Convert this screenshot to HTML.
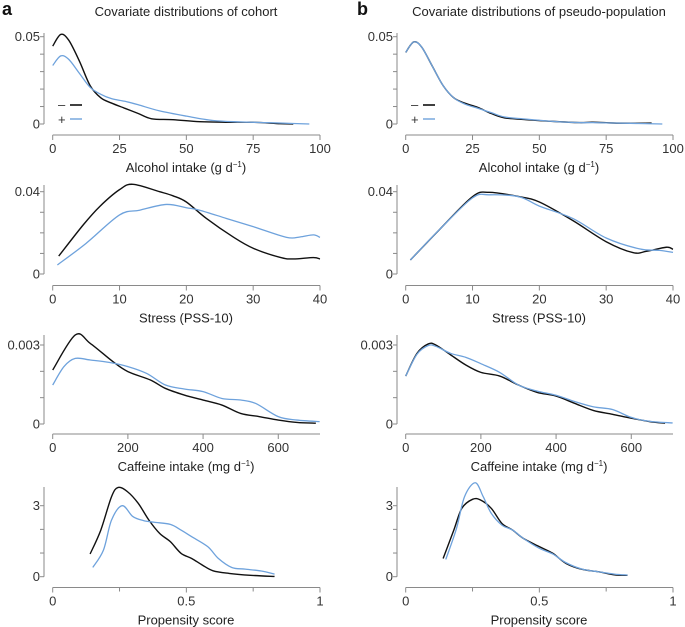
<!DOCTYPE html>
<html><head><meta charset="utf-8">
<style>
body{margin:0;background:#fff;}
svg{display:block;font-family:"Liberation Sans",Arial,sans-serif;}
.tk{font-size:13px;fill:#333;}
.ttl{font-size:13px;fill:#222;}
</style></head>
<body>
<svg id="fig" width="685" height="627" viewBox="0 0 685 627">
<text x="2" y="15" font-size="18" font-weight="bold" fill="#111">a</text>
<text x="186" y="16" text-anchor="middle" class="ttl">Covariate distributions of cohort</text>
<text x="357" y="15" font-size="18" font-weight="bold" fill="#111">b</text>
<text x="539" y="16" text-anchor="middle" class="ttl">Covariate distributions of pseudo-population</text>
</svg>
<script>
// ---- data ----
const alcA_bx=[0,3,6,10,14,18,22,27,32,37,45,55,65,75,85,90];
const alcA_by=[0.0446,0.0513,0.048,0.036,0.022,0.015,0.012,0.009,0.006,0.003,0.0025,0.0013,0.001,0.001,0.0002,0];
const alcA_cx=[0,3,6,10,14,18,22,27,32,40,50,60,70,80,90,96];
const alcA_cy=[0.0335,0.039,0.037,0.029,0.021,0.017,0.0145,0.013,0.011,0.0075,0.0045,0.002,0.0012,0.0008,0.0003,0];
const alcB_bx=[0,3,6,10,14,18,22,27,32,37,45,55,65,70,80,92];
const alcB_by=[0.041,0.047,0.044,0.033,0.022,0.015,0.012,0.0095,0.006,0.0035,0.0025,0.0015,0.0008,0.001,0.0005,0.0005];
const alcB_cx=[0,3,6,10,14,18,22,27,32,37,45,55,65,70,80,96];
const alcB_cy=[0.041,0.047,0.044,0.033,0.022,0.015,0.0115,0.009,0.0065,0.004,0.0028,0.0015,0.0008,0.0008,0.0005,0];

const strA_bx=[0.9,4.6,7.1,10,12,16,18,20,23,27,30,34,36,39,40];
const strA_by=[0.0087,0.024,0.033,0.041,0.0436,0.040,0.038,0.035,0.027,0.018,0.0125,0.0081,0.0073,0.008,0.0073];
const strA_cx=[0.7,5,10,13,17,20,22,26,30,35,37,39,40];
const strA_cy=[0.0044,0.0149,0.0287,0.031,0.0338,0.0322,0.031,0.027,0.023,0.0178,0.018,0.019,0.0178];
const strB_bx=[0.7,5,10,12.5,17,20,25,30,34,36,39,40];
const strB_by=[0.0068,0.0214,0.0376,0.0397,0.0376,0.035,0.026,0.0157,0.0104,0.011,0.013,0.012];
const strB_cx=[0.7,5,10,12.5,17,20,25,30,35,38,40];
const strB_cy=[0.0068,0.0214,0.037,0.0385,0.0375,0.033,0.027,0.0175,0.0122,0.0115,0.0105];

const cafA_bx=[0,60,100,160,200,260,300,350,400,450,500,550,600,650,700];
const cafA_by=[0.00205,0.00338,0.00306,0.00237,0.00199,0.00167,0.00135,0.0011,0.00091,0.00072,0.0004,0.00028,0.00015,0.00006,0.00003];
const cafA_cx=[0,30,60,100,150,200,250,300,350,400,450,500,540,600,650,710];
const cafA_cy=[0.00148,0.00218,0.00249,0.00243,0.00234,0.00218,0.00192,0.00148,0.00133,0.00123,0.00097,0.00091,0.00078,0.00028,0.00015,0.00009];
const cafB_bx=[0,30,60,80,120,160,200,250,300,350,400,450,500,550,600,650,690];
const cafB_by=[0.00182,0.00268,0.00304,0.003,0.00262,0.00224,0.00196,0.00182,0.00148,0.0012,0.00106,0.00078,0.00051,0.00037,0.00022,0.00009,0.00003];
const cafB_cx=[0,30,60,80,120,160,200,250,300,350,400,450,500,550,600,650,710];
const cafB_cy=[0.00182,0.00265,0.00298,0.00295,0.00268,0.00253,0.00229,0.00196,0.00148,0.00125,0.00109,0.00085,0.00065,0.00055,0.00025,0.0001,0.00004];

const proA_bx=[0.14,0.18,0.22,0.245,0.28,0.32,0.36,0.4,0.44,0.48,0.52,0.56,0.6,0.66,0.74,0.83];
const proA_by=[0.96,1.97,3.38,3.77,3.59,3.1,2.39,1.83,1.48,0.99,0.77,0.49,0.25,0.14,0.06,0.01];
const proA_cx=[0.15,0.19,0.22,0.26,0.3,0.34,0.38,0.44,0.48,0.52,0.58,0.62,0.67,0.72,0.78,0.83];
const proA_cy=[0.39,1.13,2.39,3.0,2.54,2.37,2.3,2.21,1.97,1.69,1.27,0.77,0.39,0.32,0.24,0.11];
const proB_bx=[0.14,0.18,0.21,0.25,0.28,0.32,0.36,0.4,0.44,0.5,0.55,0.6,0.66,0.72,0.78,0.83];
const proB_by=[0.77,1.97,2.89,3.27,3.24,2.89,2.25,1.97,1.62,1.27,0.99,0.56,0.31,0.21,0.08,0.06];
const proB_cx=[0.15,0.19,0.22,0.26,0.29,0.32,0.36,0.4,0.44,0.5,0.55,0.6,0.66,0.72,0.78,0.83];
const proB_cy=[0.73,2.04,3.38,3.97,3.38,2.68,2.18,1.97,1.62,1.2,0.96,0.59,0.32,0.21,0.11,0.07];

const alcXTicks=[0,25,50,75,100];
const strXTicks=[0,10,20,30,40];
const cafXTicks=[0,200,400,600];
const proXTicks=[0,0.5,1];
const proXMinor=[0.25,0.75];

// ---- drawing ----
const NS="http://www.w3.org/2000/svg";
const svg=document.getElementById('fig');
function mk(tag,attrs,parent){const e=document.createElementNS(NS,tag);for(const k in attrs)e.setAttribute(k,attrs[k]);(parent||svg).appendChild(e);return e;}
function smooth(pts){
  let d="M"+pts[0][0].toFixed(2)+","+pts[0][1].toFixed(2);
  for(let i=0;i<pts.length-1;i++){
    const p0=pts[Math.max(i-1,0)],p1=pts[i],p2=pts[i+1],p3=pts[Math.min(i+2,pts.length-1)];
    const c1=[p1[0]+(p2[0]-p0[0])/6,p1[1]+(p2[1]-p0[1])/6];
    const c2=[p2[0]-(p3[0]-p1[0])/6,p2[1]-(p3[1]-p1[1])/6];
    d+=" C"+c1[0].toFixed(2)+","+c1[1].toFixed(2)+" "+c2[0].toFixed(2)+","+c2[1].toFixed(2)+" "+p2[0].toFixed(2)+","+p2[1].toFixed(2);
  }
  return d;
}
function panel(o){
  const g=mk('g',{});
  
  
  const dx=o.dx;
  const X=v=>dx+52.7+(v-o.xmin)/(o.xmax-o.xmin)*(320-52.7);
  const Y=v=>o.y0-(v/o.ytop)*(o.y0-o.ytopPx);
  const ax=dx+44, axc='#8a8a8a';
  // y axis
  const ya=mk('line',{x1:ax,x2:ax,y1:o.axTop,y2:o.y0,stroke:axc,'stroke-width':1},g);
  
  
  for(let i=0;i<=o.nMinor;i++){
    const v=o.ytop*i/o.nMinor;
    mk('line',{x1:ax-4,x2:ax,y1:Y(v),y2:Y(v),stroke:axc,'stroke-width':1},g);
  }
  [[0,'0'],[o.ytop,o.ytopLabel]].forEach(t=>{
    const tx=mk('text',{x:ax-4,y:Y(t[0])+4.5,'text-anchor':'end',class:'tk'},g);
    tx.textContent=t[1];
    
    
  });
  // x axis
  const xa=mk('line',{x1:X(o.xmin),x2:dx+320,y1:o.xAxY,y2:o.xAxY,stroke:axc,'stroke-width':1},g);
  
  
  o.xt.forEach(v=>{
    mk('line',{x1:X(v),x2:X(v),y1:o.xAxY,y2:o.xAxY+5,stroke:axc,'stroke-width':1},g);
    const tx=mk('text',{x:X(v),y:o.xAxY+18,'text-anchor':'middle',class:'tk'},g);
    tx.textContent=String(v);
    
    
  });
  (o.xm||[]).forEach(v=>mk('line',{x1:X(v),x2:X(v),y1:o.xAxY,y2:o.xAxY+4,stroke:axc,'stroke-width':1},g));
  if(o.xAxY){
    const tl=mk('text',{x:dx+186,y:o.xAxY+37,'text-anchor':'middle',class:'ttl'},g);
    tl.innerHTML=o.title;
    
    
  }
  // series
  const p1=mk('path',{d:smooth(o.bx.map((x,i)=>[X(x),Y(o.by[i])])),fill:'none',stroke:'#111','stroke-width':1.4},g);
  
  
  const p2=mk('path',{d:smooth(o.cx.map((x,i)=>[X(x),Y(o.cy[i])])),fill:'none',stroke:'#6ea2dc','stroke-width':1.3},g);
  
  
  if(o.legend){
    const l1=mk('text',{x:dx+58,y:109,class:'tk'},g);l1.textContent='\u2013';
    
    
    mk('line',{x1:dx+70,x2:dx+82,y1:105,y2:105,stroke:'#111','stroke-width':1.6},g);
    const l2=mk('text',{x:dx+58,y:124,class:'tk'},g);l2.textContent='+';
    
    
    mk('line',{x1:dx+70,x2:dx+82,y1:119,y2:119,stroke:'#6ea2dc','stroke-width':1.4},g);
  }
}
const alcTitle='Alcohol intake (g d<tspan font-size="8" dy="-5">\u22121</tspan><tspan dy="5">)</tspan>';
const cafTitle='Caffeine intake (mg d<tspan font-size="8" dy="-5">\u22121</tspan><tspan dy="5">)</tspan>';
[[0,'a',alcA_bx,alcA_by,alcA_cx,alcA_cy,strA_bx,strA_by,strA_cx,strA_cy,cafA_bx,cafA_by,cafA_cx,cafA_cy,proA_bx,proA_by,proA_cx,proA_cy],
 [353,'b',alcB_bx,alcB_by,alcB_cx,alcB_cy,strB_bx,strB_by,strB_cx,strB_cy,cafB_bx,cafB_by,cafB_cx,cafB_cy,proB_bx,proB_by,proB_cx,proB_cy]].forEach(r=>{
  const dx=r[0],p=r[1];
  panel({name:'alcohol-panel-'+p,dx,xmin:0,xmax:100,y0:124,ytop:0.05,ytopPx:36.7,ytopLabel:'0.05',axTop:33,nMinor:5,xAxY:135,xt:alcXTicks,title:alcTitle,bx:r[2],by:r[3],cx:r[4],cy:r[5],legend:true});
  panel({name:'stress-panel-'+p,dx,xmin:0,xmax:40,y0:274,ytop:0.04,ytopPx:191.7,ytopLabel:'0.04',axTop:185,nMinor:4,xAxY:285.5,xt:strXTicks,title:'Stress (PSS-10)',bx:r[6],by:r[7],cx:r[8],cy:r[9]});
  panel({name:'caffeine-panel-'+p,dx,xmin:0,xmax:711,y0:424,ytop:0.003,ytopPx:345,ytopLabel:'0.003',axTop:335,nMinor:3,xAxY:434,xt:cafXTicks,title:cafTitle,bx:r[10],by:r[11],cx:r[12],cy:r[13]});
  panel({name:'propensity-panel-'+p,dx,xmin:0,xmax:1,y0:576.7,ytop:3,ytopPx:505.7,ytopLabel:'3',axTop:487,nMinor:3,xAxY:587.5,xt:proXTicks,xm:proXMinor,title:'Propensity score',bx:r[14],by:r[15],cx:r[16],cy:r[17]});
});
</script>
</body></html>
